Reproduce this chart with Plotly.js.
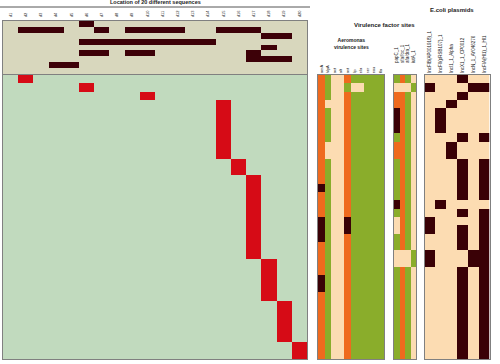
<!DOCTYPE html>
<html><head><meta charset="utf-8">
<script src="https://cdn.plot.ly/plotly-3.0.1.min.js"></script>
<style>html,body{margin:0;padding:0;background:#fff}#chart{width:500px;height:364px}</style>
</head><body><div id="chart"></div>
<script>
// ---------- DATA ----------
const deletionLabels = ["d1","d2","d3","d4","d5","d6","d7","d8","d9","d10","d11","d12","d13","d14","d15","d16","d17","d18","d19","d20"];
// dark cells of the upper deletion map, one list of column indices per row
const deletionRows = [
  [5],
  [1,2,3,6,8,9,10,11,14,15,16],
  [17,18],
  [5,6,7,8,9,10,11,12,13],
  [17],
  [5,6,8,9,16],
  [16,17,18],
  [3,4],
  []
];
// column of the red cell for each of the 34 isolates
const isolateDeletion = [1,5,9,14,14,14,14,14,14,14,15,15,16,16,16,16,16,16,16,16,16,16,17,17,17,17,17,18,18,18,18,18,19,19];

// Aeromonas virulence sites: 0 absent(tan) 1 green 2 orange 3 dark
const aeroLabels = ["aerA","hlyA","act","alt","ast","lip","ela","ser","exu","fla"];
const aeroMatrix = [
  [2,1,0,0,2,1,1,1,1,1],
  [2,1,0,0,1,0,0,1,1,1],
  [2,1,0,0,2,1,1,1,1,1],
  [2,0,0,0,2,1,1,1,1,1],
  [2,1,0,0,2,1,1,1,1,1],
  [2,1,0,0,2,1,1,1,1,1],
  [2,1,0,0,2,1,1,1,1,1],
  [2,1,0,0,2,1,1,1,1,1],
  [2,0,0,0,2,1,1,1,1,1],
  [2,0,0,0,2,1,1,1,1,1],
  [2,1,0,0,2,1,1,1,1,1],
  [2,1,0,0,2,1,1,1,1,1],
  [2,1,0,0,2,1,1,1,1,1],
  [3,1,0,0,2,1,1,1,1,1],
  [2,1,0,0,2,1,1,1,1,1],
  [2,1,0,0,2,1,1,1,1,1],
  [2,1,0,0,2,1,1,1,1,1],
  [3,1,0,0,3,1,1,1,1,1],
  [3,1,0,0,3,1,1,1,1,1],
  [3,1,0,0,2,1,1,1,1,1],
  [2,1,0,0,2,1,1,1,1,1],
  [2,1,0,0,2,1,1,1,1,1],
  [2,1,0,0,2,1,1,1,1,1],
  [2,1,0,0,2,1,1,1,1,1],
  [3,1,0,0,2,1,1,1,1,1],
  [3,1,0,0,2,1,1,1,1,1],
  [2,1,0,0,2,1,1,1,1,1],
  [2,1,0,0,2,1,1,1,1,1],
  [2,1,0,0,2,1,1,1,1,1],
  [2,1,0,0,2,1,1,1,1,1],
  [2,1,0,0,2,1,1,1,1,1],
  [2,1,0,0,2,1,1,1,1,1],
  [2,1,0,0,2,1,1,1,1,1],
  [2,1,0,0,2,1,1,1,1,1]
];

// Virulence factor sites
const vfLabels = ["papC_1","sfa/foc_1","afa/dra_1","iutA_1"];
const vfMatrix = [
  [1,2,1,0],[0,0,0,1],[2,2,1,0],[2,2,1,0],[3,2,1,0],[3,2,1,0],[3,2,1,0],[1,2,1,0],
  [2,2,1,0],[2,2,1,0],[1,2,1,0],[1,2,1,0],[1,2,1,0],[1,2,1,0],[1,2,1,0],[3,2,1,0],
  [1,2,1,0],[0,2,1,0],[0,2,1,0],[1,2,1,0],[1,2,1,0],[0,0,0,1],[0,0,0,1],[1,2,1,0],
  [1,2,1,0],[1,2,1,0],[1,2,1,0],[1,2,1,0],[1,2,1,0],[1,2,1,0],[1,2,1,0],[1,2,1,0],
  [1,2,1,0],[1,2,1,0]
];

// E.coli plasmids: columns present (dark) per isolate
const plasmidLabels = ["IncFIB(AP001918)_1","IncFII(pRSB107)_1","IncI1_1_Alpha","IncX1_1_CP0012","IncN_1_AY046276","IncFIA(HI1)_1_HI1"];
const plasmidPresent = [
  [3],[0,4,5],[3],[2],[1],[1],[1],[3,5],[2],[2],
  [3,5],[3,5],[3,5],[3,5],[3,5],[1],[3,5],[0,5],[0,3,5],[3,5],
  [3,5],[0,4,5],[0,4,5],[3,5],[3,5],[3,5],[3,5],[3,5],[3,5],[3,5],
  [3,5],[3,5],[3,5],[3,5]
];

// ---------- BUILD ----------
const W = 500, H = 364;
const dx = (a,b) => [a/W, b/W];
const dy = (top,bot) => [1-bot/H, 1-top/H];
const range = n => Array.from({length:n}, (_,i)=>i);
const nIso = isolateDeletion.length;

const mainZ = isolateDeletion.map(c => deletionLabels.map((_,j)=> j===c ? 1 : 0));
const topZ = deletionRows.map(r => deletionLabels.map((_,j)=> r.includes(j) ? 1 : 0));
const plasZ = plasmidPresent.map(r => plasmidLabels.map((_,j)=> r.includes(j) ? 1 : 0));

function stepScale(colors){
  const n = colors.length, out = [];
  colors.forEach((c,i)=>{ out.push([i/n, c]); out.push([(i+1)/n, c]); });
  return out;
}
const TAN='#fcdcb2', GREEN='#8aad2b', ORANGE='#ef6a1e', DARK='#3a0106';
const common = {type:'heatmap', showscale:false, hoverinfo:'skip', xgap:0, ygap:0};

const traces = [
  Object.assign({}, common, {z: mainZ, x: range(20), y: range(nIso), xaxis:'x', yaxis:'y',
    zmin:-0.5, zmax:1.5, colorscale: stepScale(['#c1dabe','#d60b16'])}),
  Object.assign({}, common, {z: topZ, x: range(20), y: range(deletionRows.length), xaxis:'x2', yaxis:'y2',
    zmin:-0.5, zmax:1.5, colorscale: stepScale(['#d8d7bd','#3d0108'])}),
  Object.assign({}, common, {z: aeroMatrix, x: range(aeroLabels.length), y: range(nIso), xaxis:'x3', yaxis:'y3',
    zmin:-0.5, zmax:3.5, colorscale: stepScale([TAN,GREEN,ORANGE,DARK])}),
  Object.assign({}, common, {z: vfMatrix, x: range(vfLabels.length), y: range(nIso), xaxis:'x4', yaxis:'y4',
    zmin:-0.5, zmax:3.5, colorscale: stepScale([TAN,GREEN,ORANGE,DARK])}),
  Object.assign({}, common, {z: plasZ, x: range(plasmidLabels.length), y: range(nIso), xaxis:'x5', yaxis:'y5',
    zmin:-0.5, zmax:1.5, colorscale: stepScale([TAN,DARK])})
];

const tickFont = {family:'Liberation Sans, Arial, sans-serif', size:4, color:'#222'};
function xax(domain, labels, anchor, extra){
  return Object.assign({domain, anchor, range:[-0.5, labels.length-0.5], showgrid:false, zeroline:false,
    showline:true, mirror:true, linecolor:'#808080', linewidth:1, side:'top', ticks:'',
    tickvals: range(labels.length), ticktext: labels, tickangle:-90, tickfont: tickFont, fixedrange:true}, extra||{});
}
function yax(domain, n, anchor){
  return {domain, anchor, range:[n-0.5, -0.5], showgrid:false, zeroline:false, showticklabels:false, ticks:'',
    showline:true, mirror:true, linecolor:'#808080', linewidth:1, fixedrange:true};
}

const layout = {
  width: W, height: H, margin:{l:0,r:0,t:0,b:0}, paper_bgcolor:'#fff', plot_bgcolor:'#fff', showlegend:false,
  font:{family:'Liberation Sans, Arial, sans-serif'},
  xaxis: xax(dx(3,307), deletionLabels, 'y', {showticklabels:false}),
  yaxis: yax(dy(75,359), nIso, 'x'),
  xaxis2: xax(dx(3,307), deletionLabels, 'y2', {ticklabelstandoff:2}),
  yaxis2: yax(dy(21,74), deletionRows.length, 'x2'),
  xaxis3: xax(dx(318,384), aeroLabels, 'y3'),
  yaxis3: yax(dy(75,359), nIso, 'x3'),
  xaxis4: xax(dx(394,416), vfLabels, 'y4', {ticklabelstandoff:10, tickfont:{family:'Liberation Sans, Arial, sans-serif', size:4.5, color:'#222'}}),
  yaxis4: yax(dy(75,359), nIso, 'x4'),
  xaxis5: xax(dx(424.5,489.5), plasmidLabels, 'y5', {tickfont:{family:'Liberation Sans, Arial, sans-serif', size:4.5, color:'#222'}}),
  yaxis5: yax(dy(75,359), nIso, 'x5'),
  shapes: [
    {type:'line', xref:'paper', yref:'paper', x0:0, x1:310/W, y0:1-7/H, y1:1-7/H, line:{color:'#555', width:1}}
  ],
  annotations: [
    {text:'<b>Location of 20 different sequences</b>', x:155/W, y:1-2/H, xref:'paper', yref:'paper', showarrow:false,
      font:{size:5.5, color:'#222'}, xanchor:'center', yanchor:'middle'},
    {text:'<b>E.coli plasmids</b>', x:452/W, y:1-10/H, xref:'paper', yref:'paper', showarrow:false,
      font:{size:6, color:'#222'}, xanchor:'center', yanchor:'middle'},
    {text:'<b>Virulence factor sites</b>', x:384/W, y:1-25/H, xref:'paper', yref:'paper', showarrow:false,
      font:{size:6, color:'#222'}, xanchor:'center', yanchor:'middle'},
    {text:'<b>Aeromonas<br>virulence sites</b>', x:351/W, y:1-43/H, xref:'paper', yref:'paper', showarrow:false,
      font:{size:5, color:'#222'}, xanchor:'center', yanchor:'middle'}
  ]
};

Plotly.newPlot('chart', traces, layout, {staticPlot:true, displayModeBar:false});
</script></body></html>
